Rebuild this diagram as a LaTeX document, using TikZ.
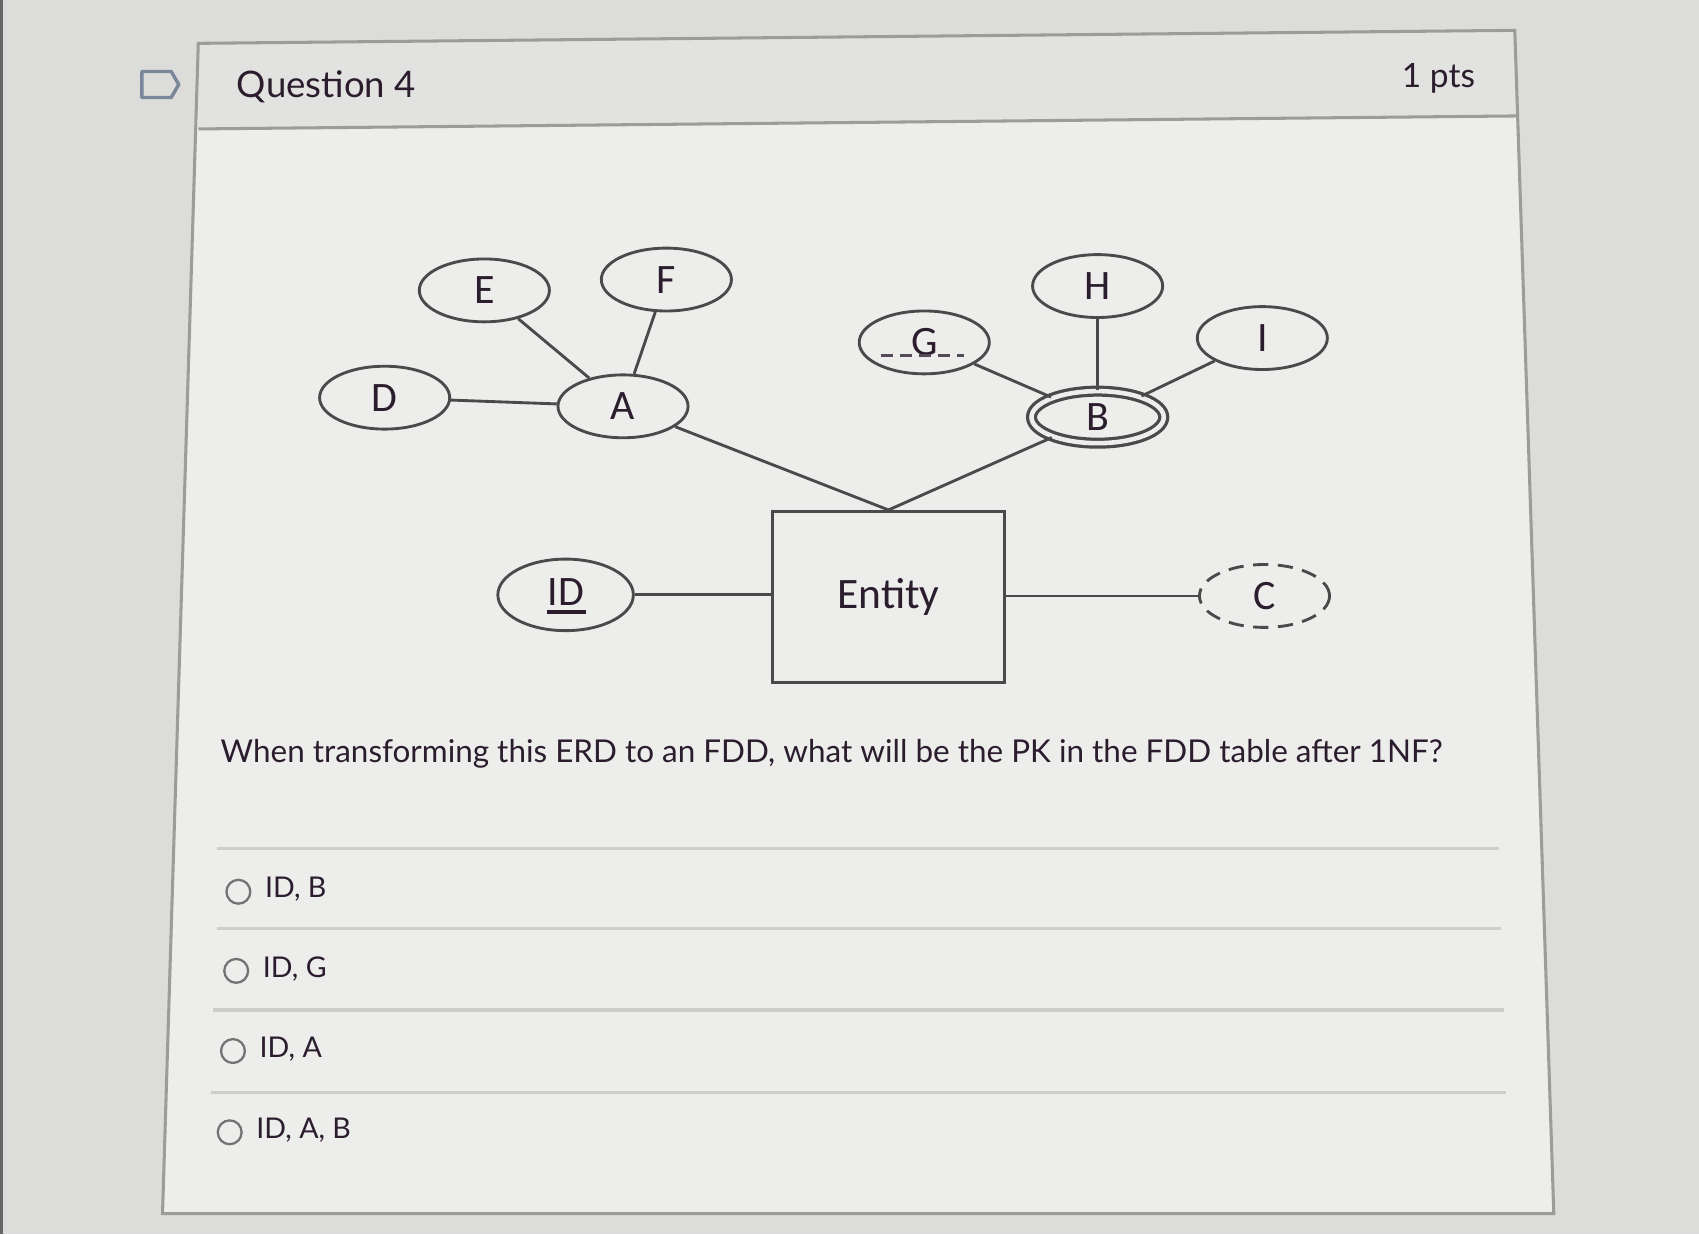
\documentclass[tikz,border=0pt]{standalone}
\usepackage{fontspec}
\setmainfont{Lato}
\newfontfamily\diag{Carlito}
\usetikzlibrary{shapes.geometric}
\definecolor{bgout}{HTML}{DCDCDA}
\definecolor{panel}{HTML}{EDEDEB}
\definecolor{headbg}{HTML}{E2E2E0}
\definecolor{frame}{HTML}{9C9C9A}
\definecolor{sep}{HTML}{CDCDCB}
\definecolor{ink}{HTML}{2B1D2E}
\definecolor{lines}{HTML}{4A4A4A}
\definecolor{icon}{HTML}{7A8798}
\tikzset{
  attr/.style={ellipse, draw=lines, line width=0.75pt, minimum width=1.2cm, minimum height=0.58cm, inner sep=0pt, text=ink, font=\diag\fontsize{11}{13}\selectfont},
  conn/.style={draw=lines, line width=0.75pt},
  radio/.style={circle, draw=black!55, line width=0.6pt, minimum size=0.22cm, inner sep=0pt},
  opt/.style={anchor=west, text=ink, font=\fontsize{7.5}{9}\selectfont, inner sep=0pt},
  seprule/.style={draw=sep, line width=0.9pt}
}
\begin{document}
\begin{tikzpicture}[x=0.01cm, y=-0.01cm]
\useasboundingbox (0,0) rectangle (1568,1139);
\fill[bgout] (0,0) rectangle (1568,1139);
\draw[black!60, line width=1pt] (1,0) -- (1,1139);
% panel
\fill[panel] (183,40) -- (1398,28) -- (1434,1120) -- (150,1120) -- cycle;
\fill[headbg] (183,40) -- (1398,28) -- (1400,107) -- (183,119) -- cycle;
\draw[frame, line width=0.8pt] (183,40) -- (1398,28) -- (1434,1120) -- (150,1120) -- cycle;
\draw[frame, line width=0.8pt] (183,119) -- (1400,107);
% bookmark icon
\draw[icon, line width=0.9pt, line join=round] (131,66) -- (158,66) -- (165,78) -- (158,90) -- (131,90) -- cycle;
\node[anchor=west, text=ink, font=\fontsize{9.6}{11}\selectfont, inner sep=0pt] (qtitle) at (218,80) {Question 4};
\node[anchor=east, text=ink, font=\fontsize{8.8}{10}\selectfont, inner sep=0pt] (pts) at (1362,72) {1 pts};
% ERD
\node[attr] (E) at (447,268) {E};
\node[attr] (F) at (615,258) {F};
\node[attr] (D) at (355,367) {D};
\node[attr] (A) at (575,375) {A};
\node[attr] (G) at (853,316) {G};
\node[attr] (H) at (1013,264) {H};
\node[attr] (I) at (1165,312) {I};
\node[attr, double=panel, double distance=1.2pt, line width=0.85pt, minimum width=1.22cm, minimum height=0.48cm] (B) at (1013,385) {B};
\node[attr, minimum width=1.25cm, minimum height=0.66cm] (ID) at (522,549) {};
\node[text=ink, font=\diag\fontsize{11}{13}\selectfont, inner sep=0pt] (IDt) at (522,546) {ID};
\node[attr, dashed, dash pattern=on 4pt off 2.5pt] (C) at (1167,550) {C};
\node[draw=lines, line width=0.75pt, minimum width=2.14cm, minimum height=1.58cm, inner sep=0pt, text=ink, font=\diag\fontsize{11.4}{14}\selectfont] (Entity) at (820,551) {Entity};
\coordinate (uIDa) at (505,565);
\coordinate (uIDb) at (541,565);
\draw[ink, line width=0.9pt] (uIDa) -- (uIDb);
\coordinate (uGa) at (813,328);
\coordinate (uGb) at (890,328);
\draw[ink!80, line width=0.7pt, dash pattern=on 3.2pt off 1.8pt] (uGa) -- (uGb);
\draw[conn] (E) -- (A);
\draw[conn] (F) -- (A);
\draw[conn] (D) -- (A);
\draw[conn] (A) -- (Entity.north);
\draw[conn] (B) -- (Entity.north);
\draw[conn] (G) -- (B);
\draw[conn] (H) -- (B);
\draw[conn] (I) -- (B);
\draw[conn] (ID.east) -- (Entity.west |- ID.east);
\draw[conn] (Entity.east |- C.west) -- (C.west);
% question
\node[anchor=west, text=ink, font=\fontsize{8.25}{10}\selectfont, inner sep=0pt] (qtext) at (203,696) {When transforming this ERD to an FDD, what will be the PK in the FDD table after 1NF?};
\draw[seprule] (200,783) -- (1383,783);
\draw[seprule] (200,857) -- (1385,857);
\draw[seprule] (197,932) -- (1388,932);
\draw[seprule] (195,1008) -- (1390,1008);
\node[radio] (r1) at (220,823) {};
\node[radio] (r2) at (218,896) {};
\node[radio] (r3) at (215,970) {};
\node[radio] (r4) at (212,1045) {};
\node[opt] (o1) at (244,821) {ID, B};
\node[opt] (o2) at (242,894) {ID, G};
\node[opt] (o3) at (239,968) {ID, A};
\node[opt] (o4) at (236,1043) {ID, A, B};
\end{tikzpicture}
\end{document}
